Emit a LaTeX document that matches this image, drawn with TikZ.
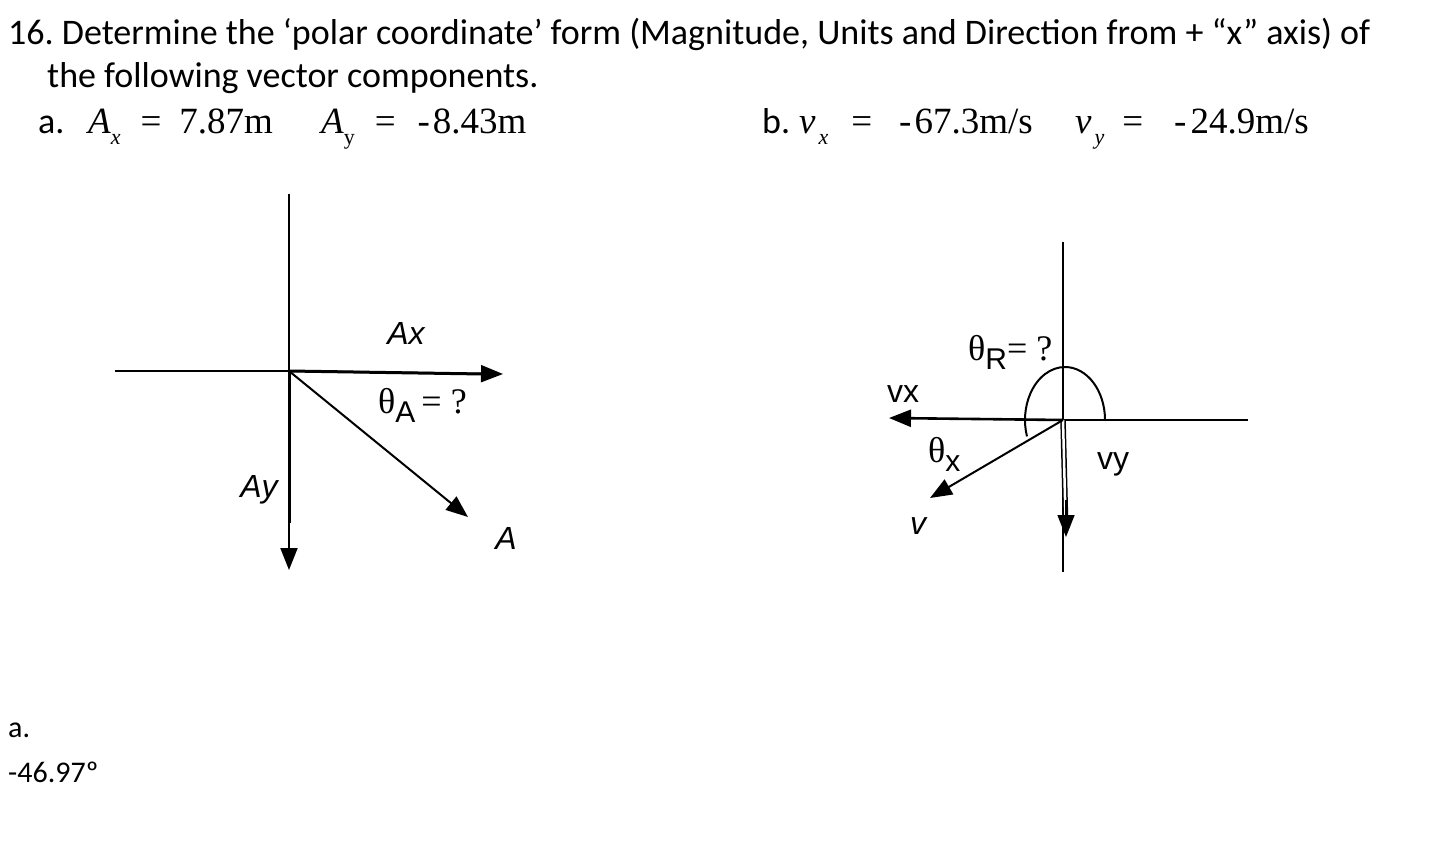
\documentclass[tikz,border=0pt]{standalone}
\usepackage{fontspec}
\setmainfont{Carlito}
\newfontfamily\tmfont{Liberation Serif}
\newfontfamily\hvfont{Liberation Sans}
\usetikzlibrary{arrows.meta,positioning}
\newcommand{\sbx}[1]{\raisebox{-10pt}{\fontsize{22}{22}\selectfont #1}}
\newcommand{\sbs}[1]{\raisebox{-9pt}{\fontsize{30}{30}\selectfont #1}}
\frenchspacing
\tikzset{
  txt/.style={anchor=base west,inner sep=0pt,font=\fontsize{36}{42}\selectfont},
  ans/.style={anchor=base west,inner sep=0pt,font=\fontsize{30}{36}\selectfont},
  mth/.style={anchor=base west,inner sep=0pt,font=\tmfont\fontsize{37}{40}\selectfont},
  lbl/.style={inner sep=0pt,font=\hvfont\fontsize{32}{36}\selectfont},
  ilbl/.style={inner sep=0pt,font=\hvfont\itshape\fontsize{32}{36}\selectfont},
  axis/.style={line width=1.6pt},
  comp/.style={line width=3pt},
  vec/.style={line width=2pt,-{Triangle[length=22pt,width=17pt]}},
}
\begin{document}
\begin{tikzpicture}[x=1pt,y=-1pt]
\useasboundingbox (0,0) rectangle (1450,848);
% question text
\node[txt] (q1) at (8,45) {16. Determine the ‘polar coordinate’ form (Magnitude, Units and Direction from + “x” axis) of};
\node[txt] (q2) at (47,88) {the following vector components.};
\node[txt] (qa) at (38,134) {a.};
\node[mth] (ax) at (88,134) {\itshape A\sbx{x}\hspace{20pt}\upshape=\hspace{18pt}7.87m};
\node[mth] (ay) at (321,134) {\itshape A\upshape\sbx{y}\hspace{20pt}=\hspace{22pt}-\hspace{3pt}8.43m};
\node[txt] (qb) at (762,134) {b.};
\node[mth] (vx) at (799,134) {\itshape v\hspace{3pt}\sbx{x}\hspace{23pt}\upshape=\hspace{27pt}-\hspace{3pt}67.3m/s};
\node[mth] (vy) at (1075,134) {\itshape v\hspace{3pt}\sbx{y}\hspace{18pt}\upshape=\hspace{31pt}-\hspace{4pt}24.9m/s};
% diagram a
\coordinate (oa) at (289,371);
\coordinate (atop) at (289,194);
\coordinate (aleft) at (115,371);
\coordinate (axtip) at (503,374);
\coordinate (aybot) at (289,523);
\coordinate (aytip) at (289,570);
\coordinate (atip) at (468,517);
\draw[axis] (atop) -- (oa);
\draw[axis] (aleft) -- (oa);
\draw[comp] (oa) -- ([xshift=-20pt]axtip);
\draw[vec] (oa) -- (axtip);
\draw[comp] (oa) -- (aybot);
\draw[vec] (aybot) -- (aytip);
\draw[vec] (oa) -- (atip);
\node[ilbl] (lax) at (406,333) {Ax};
\node[lbl,anchor=west] (lth) at (378,405) {{\tmfont\fontsize{36}{36}\selectfont θ}\sbs{A}{\tmfont\fontsize{36}{36}\selectfont\,= ?}};
\node[ilbl] (lay) at (259,490) {Ay};
\node[ilbl] (la) at (506,538) {A};
% diagram b
\coordinate (ob) at (1063,420);
\coordinate (btop) at (1063,242);
\coordinate (bbot) at (1063,572);
\coordinate (bright) at (1248,420);
\coordinate (vxtip) at (889,418);
\coordinate (vytip) at (1066,537);
\coordinate (vtip) at (930,498);
\draw[axis] (btop) -- (bbot);
\draw[axis] (ob) -- (bright);
\draw[vec,line width=2.6pt] (ob) -- (vxtip);
\draw[line width=1.5pt,double distance=2.5pt,shorten >=18pt] (ob) -- (vytip);
\draw[vec,line width=1.5pt] (1066,500) -- (vytip);
\draw[vec] (ob) -- (vtip);
\draw[line width=2pt] (1105,420) arc[start angle=0,end angle=-198,x radius=40,y radius=53];
\node[lbl,anchor=west] (lthr) at (968,352) {{\tmfont\fontsize{36}{36}\selectfont θ}\sbs{R}{\tmfont\fontsize{36}{36}\selectfont= ?}};
\node[lbl] (lvx) at (903,394) {vx};
\node[lbl,anchor=west] (lthx) at (928,454) {{\tmfont\fontsize{36}{36}\selectfont θ}\sbs{x}};
\node[lbl] (lvy) at (1113,464) {vy};
\node[ilbl] (lv) at (918,526) {v};
% answer
\node[ans] (ra) at (8,737) {a.};
\node[ans] (rb) at (8,782) {-46.97º};
\end{tikzpicture}
\end{document}
